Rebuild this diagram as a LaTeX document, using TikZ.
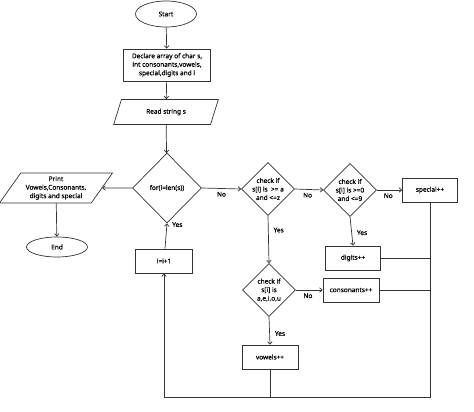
\documentclass[tikz,border=0pt]{standalone}
\usepackage{fontspec}
\setmainfont{Noto Sans}[FakeBold=0.5]
\usetikzlibrary{shapes.geometric,arrows.meta}
\begin{document}
\begin{tikzpicture}[x=1pt,y=-1pt,
    every node/.style={font=\fontsize{6.5}{8.5}\selectfont, align=center, inner sep=0pt},
    term/.style={draw, ellipse, minimum width=61, minimum height=26},
    procbox/.style={draw, rectangle, minimum width=56, minimum height=24},
    iobox/.style={draw, trapezium, trapezium left angle=62, trapezium right angle=118, trapezium stretches=true},
    decision/.style={draw, diamond, inner sep=-4pt, minimum width=53, minimum height=53},
    flow/.style={-{Straight Barb[length=2.5pt,width=4.5pt]}},
    tag/.style={font=\fontsize{6.5}{8}\selectfont},
    line width=0.7pt, draw=black!80]
      \useasboundingbox (0,0) rectangle (474,412);
      \draw
        (166,14) node[term] (start){Start}
        (167,65) node[procbox, minimum width=87, minimum height=32] (decl){Declare array of char s,\\int consonants,vowels,\\special,digits and i}
        (166,112) node[iobox, minimum width=105, minimum height=25] (read){Read string s}
        (167,188) node[decision, minimum width=69, minimum height=70] (loop){for(i=len(s))}
        (56,188) node[iobox, trapezium left angle=52, trapezium right angle=128, minimum width=113, minimum height=30] (print){Print\\Vowels,Consonants,\\digits and special}
        (57,247) node[term, minimum height=20] (end){End}
        (164,261) node[procbox, minimum width=57] (incr){i=i+1}
        (268,189) node[decision] (alpha){check if\\s[i] is \ >= a\\and <=z}
        (350,190) node[decision] (digit){check if\\s[i] is >=0\\and <=9}
        (430,190) node[procbox, minimum width=55] (special){special++}
        (353,258) node[procbox, minimum width=55] (digits){digits++}
        (269,290) node[decision] (vowel){check if\\s[i] is\\a,e,i,o,u}
        (351,290) node[procbox] (cons){consonants++}
        (270,357) node[procbox] (vowels){vowels++};
      \coordinate (loopR) at (430,397);
      \coordinate (loopL) at (164,397);
      \begin{scope}[flow]
        \draw (start) to (decl);
        \draw (decl) to (read);
        \draw (read) to (loop);
        \draw (loop.west) to (print.east);
        \draw (print) to (end);
        \draw (incr) to node[tag, pos=0.95, anchor=west, xshift=5pt]{Yes} (loop.south);
        \draw (loop.east) to node[tag, below=3pt, pos=0.5]{No} (alpha.west);
        \draw (alpha.east) to node[tag, below=3pt, pos=0.45]{No} (digit.west);
        \draw (digit.east) to node[tag, below=3pt, pos=0.45]{No} (special.west);
        \draw (alpha.south) to node[tag, pos=0.3, anchor=west, xshift=5pt]{Yes} (vowel.north);
        \draw (digit.south) to node[tag, pos=0.55, anchor=west, xshift=5pt]{Yes} (digits.north);
        \draw (vowel.east) to node[tag, below=3pt, pos=0.45]{No} (cons.west);
        \draw (vowel.south) to node[tag, pos=0.6, anchor=west, xshift=5pt]{Yes} (vowels.north);
        \draw (special.south) -- (loopR) -- (loopL) -- (incr.south);
      \end{scope}
      \begin{scope}[-]
        \draw (digits.east) to (digits.east -| loopR);
        \draw (cons.east) to (cons.east -| loopR);
        \draw (vowels.south) to (vowels.south |- loopR);
      \end{scope}
    \end{tikzpicture}
\end{document}
